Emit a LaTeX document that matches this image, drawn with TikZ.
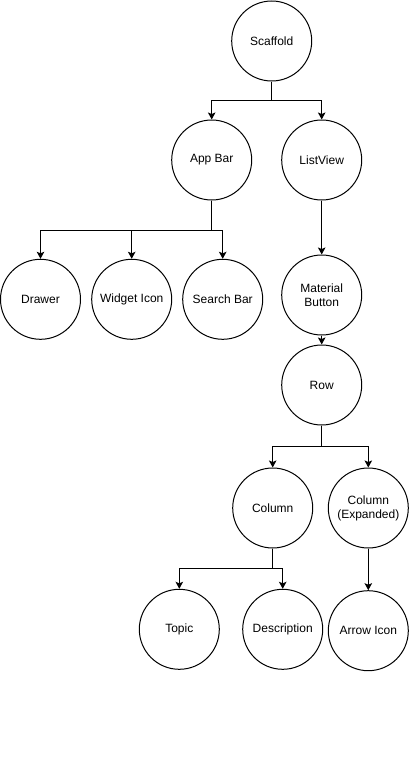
\documentclass[tikz,border=0pt]{standalone}
\usepackage{fontspec}
\setmainfont{Liberation Sans}
\usetikzlibrary{arrows.meta}
\colorlet{widgetc}{black}

\begin{document}
\begin{tikzpicture}[x=1pt,y=-1pt,
  widget/.style={draw=widgetc,line width=1pt,shape=circle,minimum size=80pt,inner sep=0pt,
    align=center,font=\fontsize{12}{14}\selectfont},
  link/.style={draw=widgetc,line width=1pt,-{Stealth[length=7pt,width=7.5pt,inset=1.5pt]}}]
\useasboundingbox (0,0) rectangle (413,776);

% top levels
\node[widget] (scaffold) at (271.7,41) {Scaffold};
\node[widget] (appbar) at (211.7,160) {App Bar};
\node[widget] (listview) at (321.7,160) {ListView};

% app bar children
\node[widget] (drawer) at (40.5,299.3) {Drawer};
\node[widget] (widgeticon) at (131.7,299.3) {Widget Icon};
\node[widget] (searchbar) at (222.7,299.3) {Search Bar};

% list view children
\node[widget] (matbutton) at (321.7,295) {Material\\Button};
\node[widget] (row) at (321.7,385) {Row};
\node[widget] (column) at (272.7,508) {Column};
\node[widget] (colexp) at (368.3,508) {Column\\(Expanded)};
\node[widget] (topic) at (179.3,629.3) {Topic};
\node[widget] (descr) at (282.7,629.3) {Description};
\node[widget] (arrowicon) at (368.3,630.7) {Arrow Icon};

% junctions
\coordinate (jscaffold) at (271.7,100);
\coordinate (jappbar) at (211.7,230);
\coordinate (jrow) at (321.7,446.7);
\coordinate (jcolumn) at (272.7,568.3);

\draw[link] (scaffold.south) -- (jscaffold) -| (appbar.north);
\draw[link] (scaffold.south) -- (jscaffold) -| (listview.north);

\draw[link] (appbar.south) -- (jappbar) -| (drawer.north);
\draw[link] (appbar.south) -- (jappbar) -| (widgeticon.north);
\draw[link] (appbar.south) -- (jappbar) -| (searchbar.north);

\draw[link] (listview) -- (matbutton);
\draw[link] (matbutton) -- (row);

\draw[link] (row.south) -- (jrow) -| (column.north);
\draw[link] (row.south) -- (jrow) -| (colexp.north);

\draw[link] (column.south) -- (jcolumn) -| (topic.north);
\draw[link] (column.south) -- (jcolumn) -| (descr.north);
\draw[link] (colexp) -- (arrowicon);

\end{tikzpicture}
\end{document}
